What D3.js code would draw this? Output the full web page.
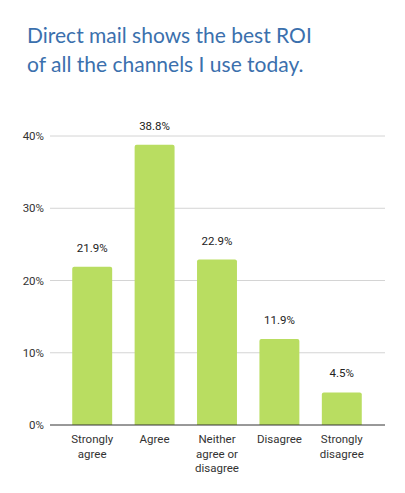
<!DOCTYPE html>
<html>
<head>
<meta charset="utf-8">
<script src="https://cdn.jsdelivr.net/npm/d3@7"></script>
<style>
  body { margin: 0; background: #fff; }
  svg { display: block; }
</style>
</head>
<body>
<script>
const width = 405;
const height = 493;

const titleLines = ['Direct mail shows the best ROI', 'of all the channels I use today.'];
const categories = ['Strongly agree', 'Agree', 'Neither agree or disagree', 'Disagree', 'Strongly disagree'];
const categoryLines = [['Strongly', 'agree'], ['Agree'], ['Neither', 'agree or', 'disagree'], ['Disagree'], ['Strongly', 'disagree']];
const values = [21.9, 38.8, 22.9, 11.9, 4.5];
const ticks = [0, 10, 20, 30, 40];

const gridLeft = 50;
const gridRight = 385;
const baseY = 425;
const topY = 136;

function main() {
  const svg = d3.select('body').append('svg').attr('width', width).attr('height', height);

  svg.append('text')
    .attr('x', 27)
    .attr('y', 43)
    .attr('fill', '#3b70ad')
    .style('font-family', 'Lato, "Open Sans", sans-serif')
    .style('font-size', '21px')
    .selectAll('tspan')
    .data(titleLines)
    .enter()
    .append('tspan')
    .attr('x', 27)
    .attr('dy', (_, i) => i === 0 ? 0 : 29)
    .text(d => d);

  const x = d3.scaleBand().domain(categories).range([61, 373]).paddingInner(0.36).paddingOuter(0.18);
  const y = d3.scaleLinear().domain([0, 40]).range([baseY, topY]);

  const grid = svg.append('g');
  grid.selectAll('line')
    .data(ticks.filter(t => t > 0))
    .enter()
    .append('line')
    .attr('x1', gridLeft)
    .attr('x2', gridRight)
    .attr('y1', d => y(d))
    .attr('y2', d => y(d))
    .attr('stroke', '#d4d4d4')
    .attr('stroke-width', 1);

  const font = 'Roboto, sans-serif';

  svg.append('g')
    .selectAll('text')
    .data(ticks)
    .enter()
    .append('text')
    .attr('x', 44)
    .attr('y', d => y(d) + 4)
    .attr('text-anchor', 'end')
    .attr('fill', '#333')
    .style('font-family', font)
    .style('font-size', '11.5px')
    .text(d => d + '%');

  svg.append('g')
    .selectAll('path')
    .data(values)
    .enter()
    .append('path')
    .attr('fill', '#b9dd61')
    .attr('d', (d, i) => {
      const x0 = x(categories[i]);
      const w = x.bandwidth();
      const yt = y(d);
      const r = 2;
      return `M${x0},${baseY}V${yt + r}Q${x0},${yt} ${x0 + r},${yt}H${x0 + w - r}Q${x0 + w},${yt} ${x0 + w},${yt + r}V${baseY}Z`;
    });

  svg.append('g')
    .selectAll('text')
    .data(values)
    .enter()
    .append('text')
    .attr('x', (d, i) => x(categories[i]) + x.bandwidth() / 2)
    .attr('y', d => y(d) - 15)
    .attr('text-anchor', 'middle')
    .attr('fill', '#222')
    .style('font-family', font)
    .style('font-size', '11.5px')
    .text(d => d.toFixed(1) + '%');

  svg.append('line')
    .attr('x1', gridLeft)
    .attr('x2', gridRight)
    .attr('y1', baseY)
    .attr('y2', baseY)
    .attr('stroke', '#333')
    .attr('stroke-width', 1);

  const labels = svg.append('g')
    .selectAll('text')
    .data(categories)
    .enter()
    .append('text')
    .attr('text-anchor', 'middle')
    .attr('fill', '#333')
    .style('font-family', font)
    .style('font-size', '11.5px');

  labels.selectAll('tspan')
    .data((d, i) => categoryLines[i].map(line => ({ line, cx: x(d) + x.bandwidth() / 2 })))
    .enter()
    .append('tspan')
    .attr('x', d => d.cx)
    .attr('y', (d, j) => 443 + j * 14.5)
    .text(d => d.line);
}

main();
</script>
</body>
</html>
